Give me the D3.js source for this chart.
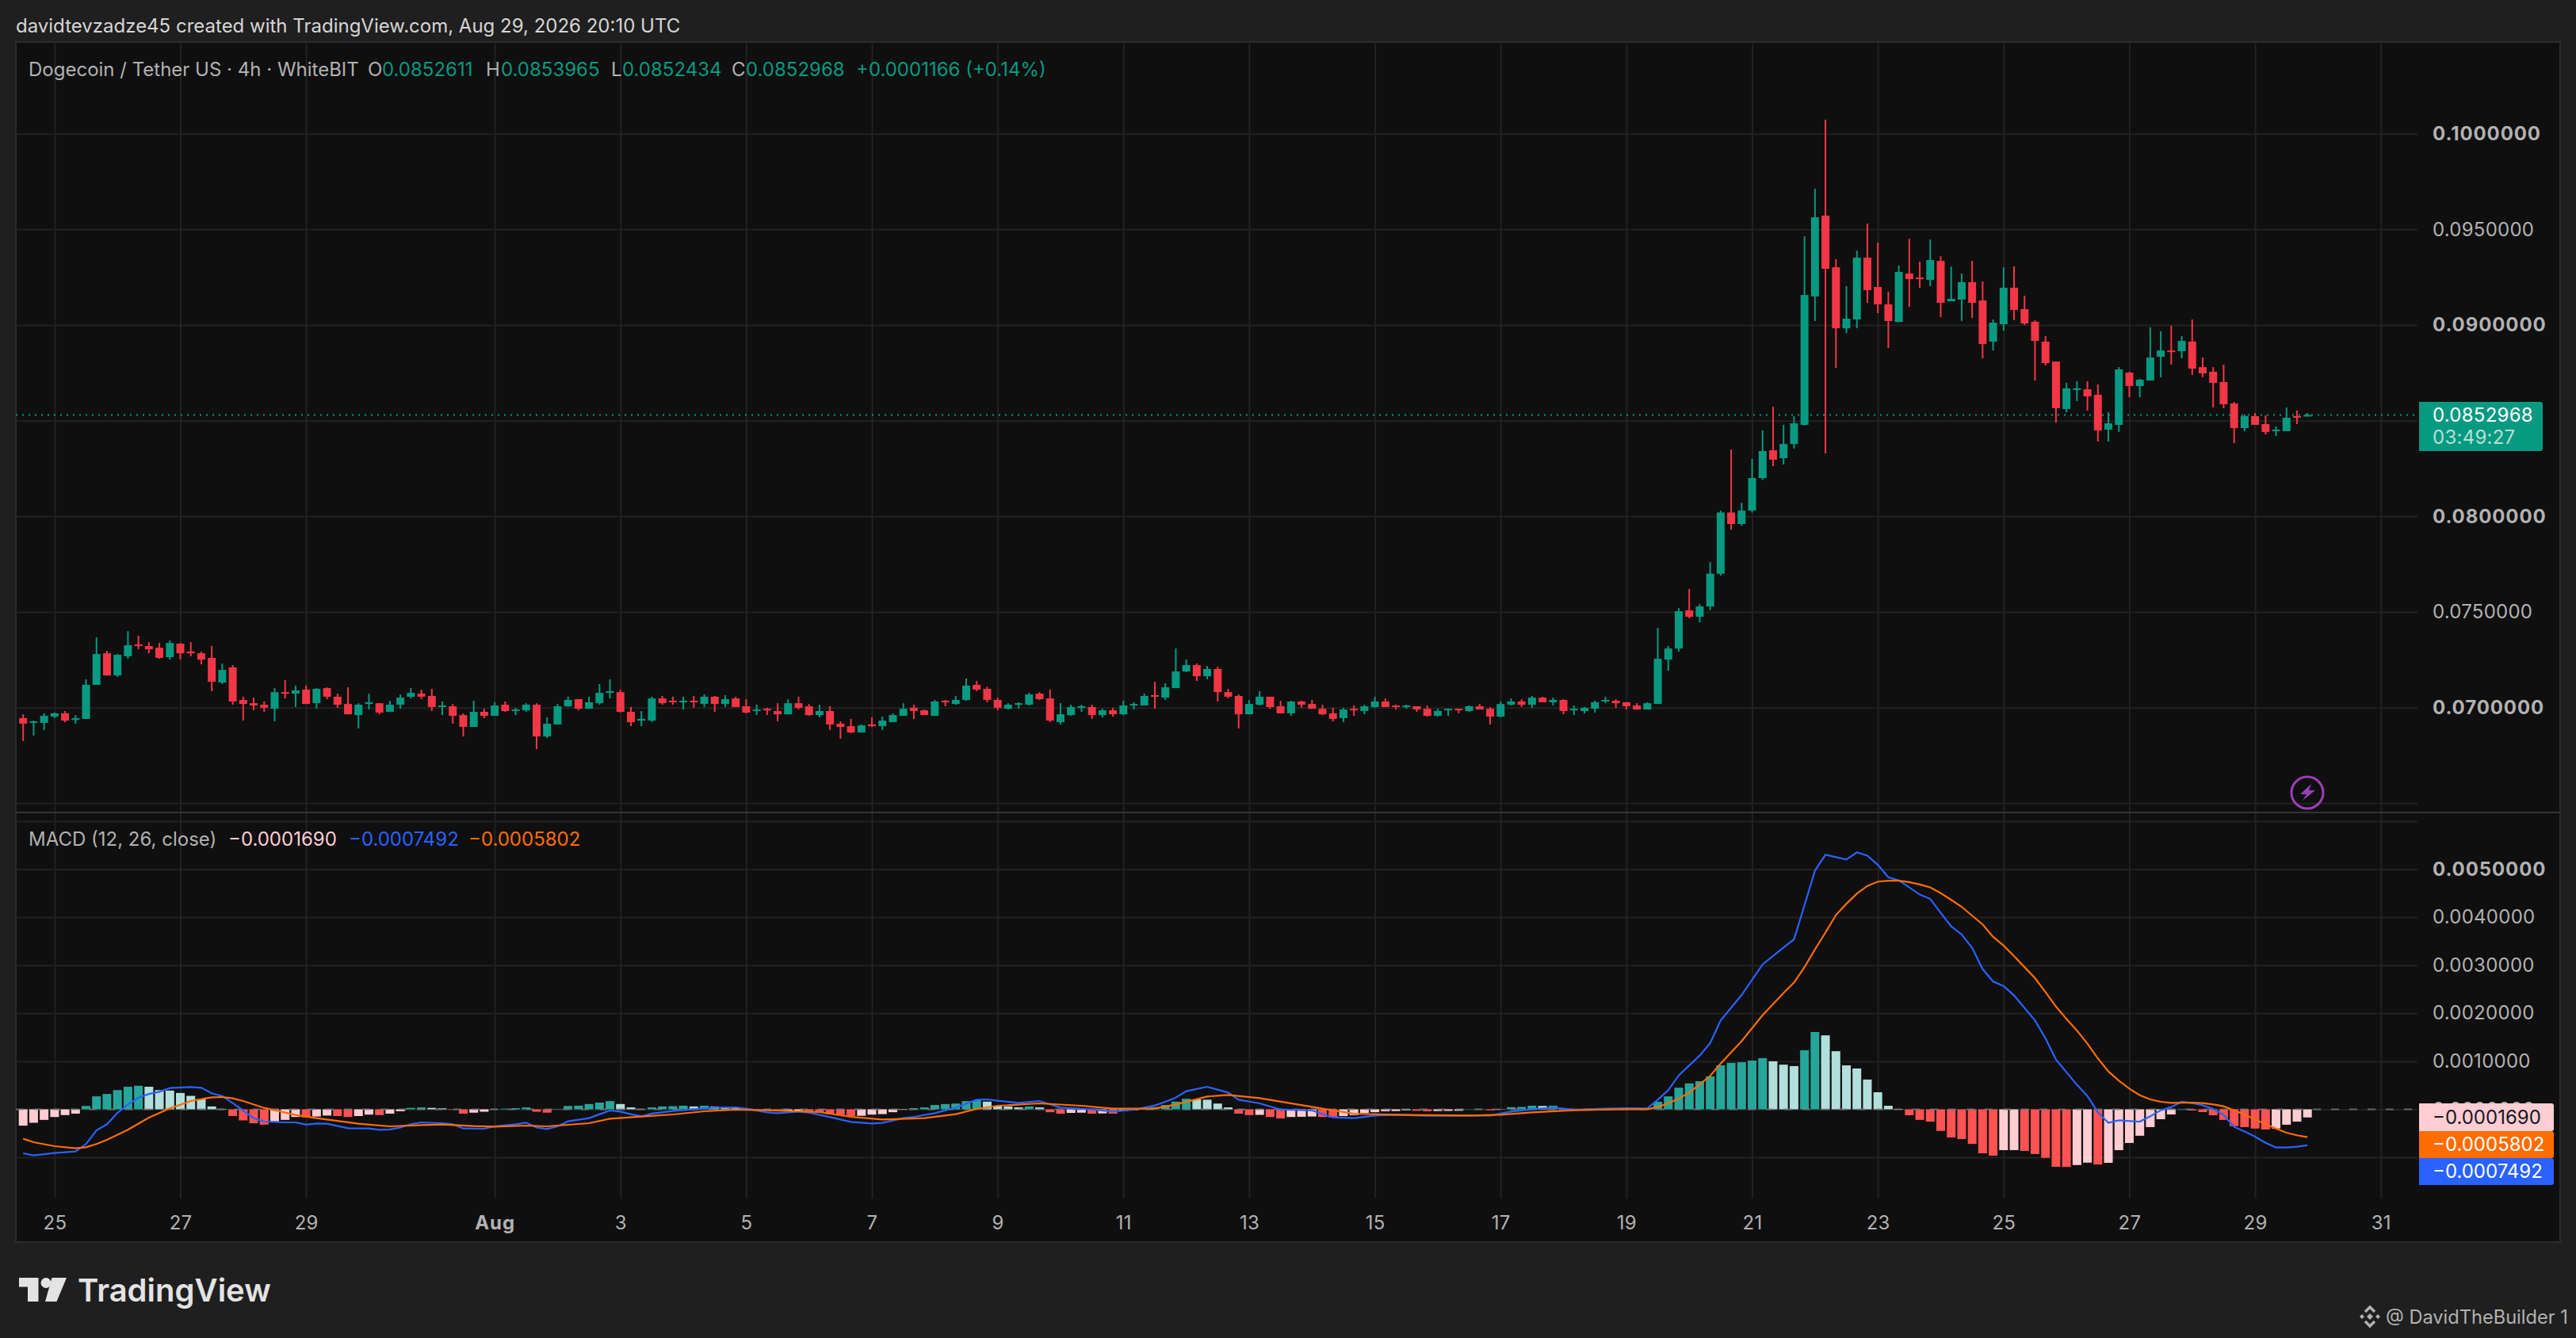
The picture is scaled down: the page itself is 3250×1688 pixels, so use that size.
<!DOCTYPE html>
<html>
<head>
<meta charset="utf-8">
<style>
html, body { margin: 0; padding: 0; background: #1f1f1f; }
svg { display: block; }
text { font-family: Inter, "Noto Sans", sans-serif; }
.grid line { stroke: #222222; stroke-width: 2px; }
.grid path { display: none; }
.axis text { fill: #b2b2b2; font-size: 24px; letter-spacing: 0.25px; }
.axis text.strong { font-weight: 700; letter-spacing: 0.9px; }
</style>
</head>
<body>
<svg id="chart" width="3250" height="1688"></svg>
<script src="https://d3js.org/d3.v7.min.js"></script>
<script>

// 4h candles, oldest first (Jul 24 12:00 to Aug 29 20:00 UTC)
const opens = [
  0.06945,0.06920,0.06920,0.06953,0.06970,0.06936,0.06941,0.07119,0.07284,0.07168,
  0.07268,0.07330,0.07322,0.07313,0.07264,0.07334,0.07293,0.07284,0.07260,0.07131,
  0.07210,0.07040,0.07023,0.07015,0.06994,0.07081,0.07073,0.07094,0.07023,0.07102,
  0.07057,0.07019,0.06961,0.07019,0.07023,0.06978,0.07015,0.07057,0.07073,0.07061,
  0.07003,0.07007,0.06961,0.06899,0.06978,0.06957,0.07015,0.06982,0.06986,0.07015,
  0.06849,0.06912,0.07007,0.07044,0.06994,0.07023,0.07077,0.07081,0.06978,0.06932,
  0.06932,0.07048,0.07036,0.07028,0.07036,0.07019,0.07057,0.07019,0.07048,0.07007,
  0.06982,0.06994,0.06982,0.06965,0.07023,0.07007,0.06961,0.06982,0.06916,0.06903,
  0.06870,0.06912,0.06903,0.06924,0.06957,0.06999,0.06986,0.06957,0.07036,0.07019,
  0.07040,0.07119,0.07098,0.07040,0.06994,0.07015,0.07015,0.07073,0.07048,0.06924,
  0.06961,0.06999,0.07003,0.06961,0.06986,0.06965,0.07011,0.07011,0.07065,0.07052,
  0.07102,0.07189,0.07222,0.07164,0.07202,0.07081,0.07061,0.06965,0.07015,0.07057,
  0.07007,0.06970,0.07032,0.07019,0.06994,0.06970,0.06945,0.06994,0.06982,0.07003,
  0.07032,0.07011,0.07003,0.07007,0.06994,0.06957,0.06986,0.06994,0.06982,0.07007,
  0.06994,0.06953,0.07015,0.07032,0.07015,0.07052,0.07028,0.07040,0.06986,0.06982,
  0.06994,0.07032,0.07036,0.07028,0.07011,0.06990,0.07019,0.07251,0.07309,0.07508,
  0.07475,0.07529,0.07700,0.08020,0.07960,0.08030,0.08200,0.08345,0.08304,0.08378,
  0.08478,0.09149,0.09572,0.09302,0.08983,0.09029,0.09352,0.09199,0.09108,0.09016,
  0.09269,0.09248,0.09236,0.09335,0.09124,0.09133,0.09224,0.09128,0.08913,0.09004,
  0.09195,0.09083,0.09017,0.08913,0.08809,0.08561,0.08660,0.08664,0.08635,0.08453,
  0.08478,0.08751,0.08681,0.08710,0.08834,0.08867,0.08863,0.08913,0.08780,0.08756,
  0.08702,0.08590,0.08461,0.08524,0.08482,0.08445,0.08445,0.08524,0.0852611
];
const highs = [
  0.06965,0.06932,0.06970,0.06974,0.06982,0.06961,0.07148,0.07367,0.07297,0.07280,
  0.07400,0.07376,0.07342,0.07338,0.07351,0.07338,0.07342,0.07293,0.07322,0.07231,
  0.07222,0.07057,0.07052,0.07032,0.07102,0.07144,0.07115,0.07115,0.07102,0.07106,
  0.07073,0.07106,0.07023,0.07073,0.07023,0.07036,0.07069,0.07102,0.07094,0.07098,
  0.07032,0.07019,0.06970,0.07036,0.06994,0.07028,0.07032,0.06999,0.07023,0.07023,
  0.06949,0.07019,0.07057,0.07044,0.07057,0.07123,0.07148,0.07094,0.07003,0.06982,
  0.07057,0.07061,0.07057,0.07057,0.07061,0.07069,0.07061,0.07065,0.07057,0.07044,
  0.07015,0.06999,0.07023,0.07044,0.07057,0.07019,0.07015,0.07007,0.06928,0.06941,
  0.06912,0.06949,0.06953,0.06970,0.07023,0.07015,0.06990,0.07040,0.07040,0.07061,
  0.07152,0.07139,0.07110,0.07052,0.07023,0.07028,0.07077,0.07081,0.07094,0.07023,
  0.07015,0.07015,0.07015,0.06994,0.06999,0.07036,0.07028,0.07073,0.07135,0.07127,
  0.07309,0.07251,0.07231,0.07218,0.07214,0.07098,0.07069,0.07040,0.07086,0.07057,
  0.07036,0.07036,0.07036,0.07040,0.07015,0.06999,0.06999,0.07011,0.07015,0.07057,
  0.07048,0.07015,0.07015,0.07007,0.07011,0.06994,0.06994,0.06994,0.07011,0.07019,
  0.07003,0.07032,0.07048,0.07044,0.07061,0.07057,0.07052,0.07044,0.07011,0.07003,
  0.07036,0.07057,0.07044,0.07028,0.07023,0.07028,0.07417,0.07322,0.07520,0.07620,
  0.07541,0.07760,0.08030,0.08349,0.08070,0.08300,0.08449,0.08573,0.08478,0.08523,
  0.09464,0.09713,0.10073,0.09344,0.09203,0.09389,0.09530,0.09431,0.09174,0.09311,
  0.09451,0.09331,0.09447,0.09360,0.09306,0.09269,0.09335,0.09228,0.09029,0.09302,
  0.09307,0.09153,0.09025,0.08942,0.08809,0.08698,0.08706,0.08706,0.08689,0.08544,
  0.08780,0.08756,0.08718,0.08988,0.08967,0.08996,0.08942,0.09029,0.08830,0.08780,
  0.08793,0.08598,0.08532,0.08540,0.08528,0.08470,0.08569,0.08553,0.0853965
];
const lows = [
  0.06825,0.06854,0.06883,0.06945,0.06924,0.06916,0.06941,0.07119,0.07168,0.07160,
  0.07255,0.07305,0.07284,0.07255,0.07251,0.07251,0.07268,0.07226,0.07086,0.07123,
  0.07015,0.06932,0.06986,0.06978,0.06928,0.07048,0.07003,0.07019,0.06994,0.07044,
  0.06999,0.06965,0.06891,0.06990,0.06965,0.06978,0.06994,0.07048,0.07044,0.06982,
  0.06961,0.06916,0.06849,0.06899,0.06945,0.06957,0.06978,0.06961,0.06978,0.06783,
  0.06841,0.06912,0.07003,0.06986,0.06994,0.07015,0.07048,0.06974,0.06903,0.06903,
  0.06924,0.07015,0.07015,0.06990,0.06999,0.07003,0.06978,0.07003,0.07003,0.06970,
  0.06961,0.06961,0.06928,0.06965,0.06990,0.06957,0.06949,0.06883,0.06837,0.06866,
  0.06870,0.06899,0.06883,0.06924,0.06957,0.06941,0.06961,0.06957,0.07007,0.07015,
  0.07036,0.07086,0.07028,0.06986,0.06990,0.06994,0.07011,0.07040,0.06924,0.06912,
  0.06957,0.06978,0.06941,0.06949,0.06953,0.06961,0.06990,0.07011,0.06994,0.07040,
  0.07102,0.07185,0.07139,0.07148,0.07032,0.07048,0.06891,0.06965,0.07011,0.06994,
  0.06970,0.06957,0.06999,0.06994,0.06961,0.06928,0.06924,0.06957,0.06965,0.06999,
  0.07003,0.06990,0.06994,0.06978,0.06953,0.06953,0.06957,0.06970,0.06978,0.06990,
  0.06912,0.06949,0.07011,0.07003,0.06999,0.07028,0.07011,0.06965,0.06961,0.06970,
  0.06974,0.07023,0.06999,0.06990,0.06990,0.06990,0.07019,0.07193,0.07293,0.07467,
  0.07446,0.07510,0.07690,0.07930,0.07950,0.08020,0.08190,0.08262,0.08271,0.08354,
  0.08474,0.09021,0.08329,0.08776,0.08958,0.08983,0.09116,0.09062,0.08880,0.09016,
  0.09095,0.09195,0.09203,0.09041,0.09124,0.09021,0.09037,0.08826,0.08867,0.08971,
  0.09025,0.09000,0.08710,0.08789,0.08490,0.08544,0.08602,0.08553,0.08391,0.08391,
  0.08441,0.08623,0.08623,0.08710,0.08727,0.08793,0.08826,0.08739,0.08727,0.08569,
  0.08565,0.08383,0.08445,0.08478,0.08428,0.08420,0.08445,0.08482,0.0852434
];
const closes = [
  0.06916,0.06928,0.06957,0.06970,0.06932,0.06945,0.07119,0.07280,0.07168,0.07276,
  0.07326,0.07322,0.07305,0.07260,0.07338,0.07284,0.07284,0.07251,0.07135,0.07197,
  0.07032,0.07019,0.07011,0.06999,0.07081,0.07073,0.07090,0.07019,0.07098,0.07057,
  0.07015,0.06965,0.07015,0.07028,0.06974,0.07015,0.07052,0.07077,0.07057,0.07003,
  0.07011,0.06957,0.06899,0.06978,0.06957,0.07011,0.06982,0.06990,0.07015,0.06849,
  0.06916,0.07007,0.07040,0.06994,0.07028,0.07077,0.07086,0.06978,0.06924,0.06941,
  0.07048,0.07023,0.07028,0.07036,0.07028,0.07057,0.07019,0.07044,0.07003,0.06974,
  0.06990,0.06986,0.06965,0.07023,0.06999,0.06961,0.06982,0.06912,0.06899,0.06870,
  0.06907,0.06903,0.06932,0.06961,0.06994,0.06982,0.06961,0.07032,0.07028,0.07040,
  0.07115,0.07094,0.07040,0.06999,0.07015,0.07023,0.07069,0.07044,0.06932,0.06965,
  0.07003,0.07007,0.06961,0.06986,0.06965,0.07011,0.07019,0.07061,0.07057,0.07106,
  0.07189,0.07222,0.07164,0.07202,0.07081,0.07057,0.06965,0.07019,0.07057,0.07003,
  0.06970,0.07032,0.07015,0.06994,0.06965,0.06941,0.06990,0.06986,0.07007,0.07032,
  0.07003,0.07003,0.07011,0.06990,0.06957,0.06982,0.06994,0.06986,0.07007,0.06990,
  0.06953,0.07019,0.07032,0.07015,0.07052,0.07028,0.07040,0.06982,0.06994,0.06999,
  0.07028,0.07040,0.07023,0.07007,0.06990,0.07023,0.07255,0.07309,0.07504,0.07475,
  0.07529,0.07700,0.08020,0.07960,0.08030,0.08200,0.08341,0.08296,0.08378,0.08486,
  0.09157,0.09563,0.09294,0.08983,0.09033,0.09352,0.09182,0.09108,0.09021,0.09278,
  0.09240,0.09240,0.09340,0.09116,0.09137,0.09224,0.09116,0.08901,0.09012,0.09195,
  0.09079,0.09008,0.08917,0.08801,0.08565,0.08669,0.08669,0.08627,0.08449,0.08486,
  0.08768,0.08681,0.08714,0.08830,0.08867,0.08859,0.08917,0.08772,0.08747,0.08698,
  0.08586,0.08461,0.08524,0.08478,0.08441,0.08453,0.08515,0.08515,0.0852968
];

// MACD histogram, one value per candle
const macdHist = [
  -0.00034,-0.00028,-0.00022,-0.00016,-0.00012,-0.00009,0.00007,0.00027,0.00032,0.00040,
  0.00047,0.00049,0.00047,0.00040,0.00039,0.00034,0.00028,0.00021,0.00006,0.00001,
  -0.00014,-0.00023,-0.00029,-0.00032,-0.00025,-0.00022,-0.00016,-0.00017,-0.00015,-0.00013,
  -0.00014,-0.00016,-0.00014,-0.00011,-0.00012,-0.00009,-0.00004,0.00003,0.00004,0.00003,
  0.00002,-0.00001,-0.00009,-0.00007,-0.00005,0.00001,0.000015,0.000025,0.00004,-0.00005,
  -0.00007,0.00001,0.00007,0.000075,0.00011,0.00014,0.00017,0.00011,0.00004,0.00001,
  0.00004,0.00006,0.000065,0.000075,0.00006,0.000075,0.00006,0.00004,0.000025,0.00001,
  -0.00001,-0.000015,-0.00003,-0.000028,-0.000025,-0.00004,-0.00007,-0.00010,-0.00012,-0.00014,
  -0.000135,-0.00011,-0.00010,-0.00006,-0.00001,0.000025,0.00004,0.00009,0.00011,0.00012,
  0.00017,0.00019,0.00016,0.000075,0.00006,0.00004,0.00006,0.00004,-0.00006,-0.00009,
  -0.000075,-0.00007,-0.00009,-0.000085,-0.00009,-0.00004,-0.00002,0.000015,0.000045,0.00009,
  0.00016,0.00022,0.000205,0.00020,0.00012,0.00004,-0.00009,-0.00012,-0.000115,-0.00016,
  -0.00019,-0.00016,-0.000155,-0.00015,-0.00016,-0.00017,-0.00014,-0.00012,-0.000075,-0.00006,
  -0.00004,-0.000035,-0.00002,-0.00003,-0.00004,-0.000035,-0.000032,-0.00003,0.000005,0.00001,
  -0.00002,-0.000005,0.000045,0.00005,0.000075,0.00007,0.000075,0.000025,0.00001,0.000008,
  0.000005,0.000004,0.000003,0.000002,0.000001,0.0000005,0.000157,0.00027,0.00045,0.00054,
  0.000585,0.000685,0.000915,0.000965,0.00098,0.001015,0.001065,0.00100,0.00093,0.00090,
  0.00123,0.00161,0.00154,0.00121,0.000915,0.00085,0.00062,0.000355,0.000074,0.000008,
  -0.000124,-0.00022,-0.000256,-0.00045,-0.000586,-0.00062,-0.00072,-0.000916,-0.000965,-0.00085,
  -0.000849,-0.000866,-0.00093,-0.00101,-0.001196,-0.00120,-0.00116,-0.00111,-0.001148,-0.001114,
  -0.00085,-0.00070,-0.00055,-0.00037,-0.000206,-0.000107,0.00001,-0.000025,-0.000058,-0.000124,
  -0.00022,-0.00035,-0.00037,-0.00040,-0.00042,-0.00040,-0.00032,-0.000256,-0.000169
];

// MACD line, read at its bends: candle number and value
const macdBars = [
  0,1,3,5,6,7,8,9,10,11,12,13,14,16,17,18,19,20,21,22,23,25,26,27,28,29,31,33,34,35,36,37,38,40,41,42,44,45,47,48,49,50,51,52,54,56,57,58,59,60,62,64,66,68,69,71,72,
  74,75,77,79,81,82,84,85,87,89,90,91,92,93,95,97,99,102,104,106,108,109,110,111,113,115,116,118,120,123,125,127,129,131,134,138,140,142,144,146,147,148,150,153,
  155,156,157,158,160,161,162,164,166,168,169,170,171,172,174,175,176,177,178,179,181,182,183,184,185,186,187,188,189,190,192,193,194,196,197,198,199,200,202,203,204,205,206,207,208,209,210,211,212,213,214,215,216,217,218
];
const macdValues = [
  -0.000916,-0.00096,-0.00091,-0.000877,-0.000723,-0.000437,-0.00031,-0.000074,0.000102,0.00024,0.00032,0.000366,0.000443,0.000465,0.000448,0.000333,0.000278,0.000129,-0.000025,-0.000184,-0.000256,-0.000272,-0.000272,-0.00032,-0.000294,-0.0003,-0.000393,-0.000399,-0.000426,-0.00042,-0.000377,-0.00031,-0.000272,-0.000289,-0.00031,-0.000399,-0.000404,-0.000355,-0.00031,-0.000278,-0.000377,-0.00041,-0.000355,-0.00025,-0.000184,-0.000025,-0.000047,-0.000102,-0.000146,-0.00009,-0.000036,0.000003,0.000036,0.000041,0.000014,-0.000063,-0.00008,
  -0.000047,-0.000069,-0.000162,-0.000261,-0.000294,-0.000283,-0.000184,-0.000157,-0.00008,0.000036,0.000118,0.0002,0.000206,0.000179,0.000135,0.000173,0.000036,-0.000003,-0.000047,-0.000008,0.00008,0.000157,0.000245,0.000377,0.00047,0.000349,0.0002,0.000124,-0.000003,-0.000025,-0.000168,-0.000184,-0.000129,-0.000113,-0.000135,-0.000129,-0.000129,-0.000047,0.000003,0.000036,0.000014,-0.000008,0.000008,0.000025,
  0.000019,0.0002,0.000399,0.000707,0.00112,0.001378,0.00185,0.00238,0.003017,0.00337,0.00354,0.00425,0.00497,0.0053,0.0052,0.00535,0.00528,0.00509,0.00483,0.004766,0.00447,0.00438,0.00409,0.00381,0.00364,0.00336,0.00292,0.00266,0.002566,0.00237,0.00185,0.001477,0.001037,0.00051,0.000278,-0.000063,-0.00028,-0.000228,-0.000256,-0.000146,-0.000019,0.000047,0.000157,0.000129,0.000085,0.000008,-0.000118,-0.000366,-0.00046,-0.00057,-0.000696,-0.000795,-0.000795,-0.000778,-0.0007492
];

// signal line, same way
const signalBars = [
  0,1,3,5,6,7,8,10,12,14,16,18,19,20,21,23,26,28,32,35,38,40,43,45,48,50,54,56,59,62,65,68,71,
  74,76,79,82,86,89,91,93,97,101,104,108,110,113,115,118,124,127,131,138,141,144,148,153,
  155,156,157,158,159,160,161,162,164,166,168,169,170,171,172,173,174,175,176,177,178,179,180,181,182,183,184,185,186,187,188,189,190,191,192,193,194,195,196,197,198,199,200,201,202,203,204,205,207,208,209,210,211,212,213,214,215,216,217,218
];
const signalValues = [
  -0.000613,-0.000685,-0.000767,-0.000811,-0.000789,-0.000723,-0.000635,-0.000426,-0.000173,0.000019,0.000173,0.00025,0.000256,0.000228,0.000173,0.00003,-0.000118,-0.000184,-0.0003,-0.000355,-0.000327,-0.000316,-0.000349,-0.00036,-0.000338,-0.000355,-0.000289,-0.000195,-0.000151,-0.000107,-0.000041,-0.000008,-0.000019,
  -0.000041,-0.000058,-0.000157,-0.000212,-0.000184,-0.000102,0.000008,0.000074,0.000124,0.000074,0.000014,0.000019,0.000102,0.000267,0.0003,0.000234,0.000014,-0.000091,-0.000113,-0.000129,-0.000113,-0.000063,-0.000019,0.000003,
  0.000003,0.000047,0.000129,0.000223,0.000349,0.00052,0.000696,0.000954,0.00142,0.00196,0.00242,0.00264,0.00296,0.00333,0.00368,0.004045,0.00428,0.00449,0.00465,0.00474,0.00476,0.00476,0.00473,0.00468,0.00462,0.0045,0.00436,0.004216,0.00403,0.00385,0.00359,0.00341,0.00319,0.00296,0.00273,0.00244,0.00214,0.00188,0.00164,0.001367,0.00106,0.00079,0.000597,0.00043,0.000294,0.000206,0.000157,0.000135,0.00014,0.000129,0.000102,0.000063,-0.000019,-0.000107,-0.00021,-0.00031,-0.0004,-0.000487,-0.00054,-0.0005802
];

const priceTicks = [0.065, 0.07, 0.075, 0.08, 0.085, 0.09, 0.095, 0.1];
const priceStrong = [0.07, 0.08, 0.09, 0.1];
const priceHidden = [0.065, 0.085];
const macdTicks = [-0.001, 0, 0.001, 0.002, 0.003, 0.004, 0.005, 0.006];
const macdStrong = [0.005];
const macdHidden = [-0.001, 0.006];
const timeTickLabels = ["25","27","29","Aug","3","5","7","9","11","13","15","17","19","21","23","25","27","29","31"];
const timeTickDates = [
  Date.UTC(2026,6,25),Date.UTC(2026,6,27),Date.UTC(2026,6,29),Date.UTC(2026,7,1),Date.UTC(2026,7,3),
  Date.UTC(2026,7,5),Date.UTC(2026,7,7),Date.UTC(2026,7,9),Date.UTC(2026,7,11),Date.UTC(2026,7,13),
  Date.UTC(2026,7,15),Date.UTC(2026,7,17),Date.UTC(2026,7,19),Date.UTC(2026,7,21),Date.UTC(2026,7,23),
  Date.UTC(2026,7,25),Date.UTC(2026,7,27),Date.UTC(2026,7,29),Date.UTC(2026,7,31)
];

const green = "#089981", red = "#f23645", blue = "#2962ff", orange = "#ff6d00";

const paneLeft = 20, plotRight = 3050, paneRight = 3230;
const paneTop = 53, paneSplit = 1025, plotBottom = 1512, paneBottom = 1567;

const svg = d3.select("#chart");
const firstBar = Date.UTC(2026,6,24,12), fourHours = 4 * 3600 * 1000;
const barDate = i => firstBar + i * fourHours;

const x = d3.scaleUtc().domain([firstBar, barDate(218)]).range([29.2, 2911.2]);
const yPrice = d3.scaleLinear().domain([0.07, 0.1]).range([892.7, 168.7]);
const yMacd = d3.scaleLinear().domain([0, 0.005]).range([1399.5, 1096.5]);

svg.append("rect").attr("width", 3250).attr("height", 1688).attr("fill", "#1f1f1f");
svg.append("rect").attr("x", paneLeft).attr("y", paneTop)
  .attr("width", paneRight - paneLeft).attr("height", paneBottom - paneTop)
  .attr("fill", "#0f0f0f").attr("stroke", "#2c2c2c").attr("stroke-width", 2);

svg.append("defs").append("clipPath").attr("id", "plot").append("rect")
  .attr("x", paneLeft + 1).attr("y", paneTop).attr("width", plotRight - paneLeft).attr("height", plotBottom - paneTop);

// time axis + vertical grid
const timeAxis = svg.append("g").attr("class", "grid axis")
  .attr("transform", `translate(0,${plotBottom})`)
  .call(d3.axisBottom(x).tickValues(timeTickDates)
    .tickSizeInner(-(plotBottom - paneTop)).tickSizeOuter(0).tickPadding(22)
    .tickFormat((d, i) => timeTickLabels[i]));
timeAxis.selectAll("text")
  .classed("strong", (d, i) => timeTickLabels[i] === "Aug");

function valueAxis(scale, ticks, strong, hidden) {
  const g = svg.append("g").attr("class", "grid axis")
    .attr("transform", `translate(${plotRight},0)`)
    .call(d3.axisRight(scale).tickValues(ticks)
      .tickSizeInner(-(plotRight - paneLeft)).tickSizeOuter(0).tickPadding(19)
      .tickFormat(d => hidden.includes(d) ? "" : d3.format(".7f")(d)));
  g.selectAll("text").classed("strong", d => strong.includes(d));
  return g;
}
valueAxis(yPrice, priceTicks, priceStrong, priceHidden);
valueAxis(yMacd, macdTicks, macdStrong, macdHidden);

// pane separator
svg.append("line").attr("x1", paneLeft).attr("x2", paneRight)
  .attr("y1", paneSplit).attr("y2", paneSplit)
  .attr("stroke", "#343434").attr("stroke-width", 2);

// last price line
svg.append("line").attr("x1", paneLeft).attr("x2", plotRight - 4)
  .attr("y1", yPrice(closes[218])).attr("y2", yPrice(closes[218]))
  .attr("stroke", green).attr("stroke-width", 2).attr("stroke-dasharray", "2,6");

// candles
const bars = d3.range(opens.length);
const candleColor = i => closes[i] >= opens[i] ? green : red;
svg.append("g").selectAll("line").data(bars).join("line")
  .attr("x1", i => x(barDate(i))).attr("x2", i => x(barDate(i)))
  .attr("y1", i => yPrice(highs[i])).attr("y2", i => yPrice(lows[i]))
  .attr("stroke", candleColor).attr("stroke-width", 2);
svg.append("g").selectAll("rect").data(bars).join("rect")
  .attr("x", i => x(barDate(i)) - 5).attr("width", 10)
  .attr("y", i => yPrice(Math.max(opens[i], closes[i])))
  .attr("height", i => Math.max(2, Math.abs(yPrice(opens[i]) - yPrice(closes[i]))))
  .attr("fill", candleColor);

// histogram
function histColor(i) {
  const v = macdHist[i], rising = i === 0 || v >= macdHist[i - 1];
  if (v >= 0) return rising ? "#26a69a" : "#b2dfdb";
  return rising ? "#ffcdd2" : "#ff5252";
}
svg.append("g").selectAll("rect").data(bars).join("rect")
  .attr("x", i => x(barDate(i)) - 5.5).attr("width", 11)
  .attr("y", i => Math.min(yMacd(macdHist[i]), yMacd(0)))
  .attr("height", i => Math.abs(yMacd(macdHist[i]) - yMacd(0)))
  .attr("fill", histColor);

// zero line
svg.append("line").attr("x1", paneLeft).attr("x2", plotRight)
  .attr("y1", yMacd(0)).attr("y2", yMacd(0))
  .attr("stroke", "#787b86").attr("stroke-opacity", 0.75).attr("stroke-width", 2).attr("stroke-dasharray", "10,13");

// macd + signal
const line = d3.line().x(d => x(barDate(d[0]))).y(d => yMacd(d[1]));
const lines = svg.append("g").attr("clip-path", "url(#plot)").attr("fill", "none").attr("stroke-width", 2.2);
lines.append("path").attr("d", line(d3.zip(macdBars, macdValues))).attr("stroke", blue);
lines.append("path").attr("d", line(d3.zip(signalBars, signalValues))).attr("stroke", orange);

// value badges on the right
function badge(yTop, w, h, fill) {
  svg.append("path").attr("fill", fill)
    .attr("d", `M3052,${yTop}H${3052 + w - 3}q3,0 3,3V${yTop + h - 3}q0,3 -3,3H3052Z`);
}
function label(tx, ty, str, fill, size, weight) {
  return svg.append("text").attr("x", tx).attr("y", ty).attr("fill", fill)
    .attr("font-size", size).attr("font-weight", weight || 400)
    .attr("dominant-baseline", "central").text(str);
}
badge(507, 156, 62, green);
label(3069, 523, "0.0852968", "#ffffff", 24).attr("letter-spacing", 0.25);
label(3069, 551, "03:49:27", "#b5e0d8", 24).attr("letter-spacing", 0.25);

badge(1392, 170, 35, "#ffcdd2");
badge(1427, 170, 34, orange);
badge(1461, 170, 34, blue);
label(3069, 1409.5, "\u22120.0001690", "#131722", 24);
label(3069, 1443.5, "\u22120.0005802", "#ffffff", 24);
label(3069, 1477.5, "\u22120.0007492", "#ffffff", 24);

// header + legends
label(20, 32, "davidtevzadze45 created with TradingView.com, Aug 29, 2026 20:10 UTC", "#d6d6d6", 24);
const legendY = 87;
label(36, legendY, "Dogecoin / Tether US \u00b7 4h \u00b7 WhiteBIT", "#b2b2b2", 24);
label(464, legendY, "O", "#b2b2b2", 24);
label(482, legendY, "0.0852611", green, 24);
label(613, legendY, "H", "#b2b2b2", 24);
label(632, legendY, "0.0853965", green, 24);
label(771, legendY, "L", "#b2b2b2", 24);
label(785, legendY, "0.0852434", green, 24);
label(923, legendY, "C", "#b2b2b2", 24);
label(941, legendY, "0.0852968", green, 24);
label(1080, legendY, "+0.0001166 (+0.14%)", green, 24);

const macdLegendY = 1058;
label(36, macdLegendY, "MACD (12, 26, close)", "#b2b2b2", 24);
label(288, macdLegendY, "\u22120.0001690", "#ffcdd2", 24);
label(440, macdLegendY, "\u22120.0007492", blue, 24);
label(591, macdLegendY, "\u22120.0005802", orange, 24);

// purple flash icon
const flash = svg.append("g").attr("transform", "translate(2911,1000)");
flash.append("circle").attr("r", 20).attr("fill", "none").attr("stroke", "#9c3fb5").attr("stroke-width", 3);
flash.append("path").attr("fill", "#9c3fb5").attr("d", "M5,-11L-9,2H-1L-6,10L10,-3H2Z");

// TradingView logo
const logo = svg.append("g").attr("fill", "#e3e3e3");
logo.append("path").attr("d", "M24,1612H48.5V1642H35V1623.5H24Z");
logo.append("circle").attr("cx", 58).attr("cy", 1618.5).attr("r", 6.5);
logo.append("path").attr("d", "M65.5,1612H84L71.5,1642H57Z");
label(98, 1627, "TradingView", "#e3e3e3", 40, 600).attr("font-family", "Lato");

// footer credit
const mark = svg.append("g").attr("transform", "translate(2990,1661)")
  .attr("fill", "none").attr("stroke", "#b2b2b2").attr("stroke-width", 3.5);
mark.append("path").attr("d", "M-6,-6L0,-12L6,-6");
mark.append("path").attr("d", "M-6,6L0,12L6,6");
mark.append("path").attr("d", "M-4,0L0,-4L4,0L0,4Z").attr("fill", "#b2b2b2").attr("stroke", "none");
mark.append("path").attr("d", "M-13,0L-10,-3L-7,0L-10,3Z").attr("fill", "#b2b2b2").attr("stroke", "none");
mark.append("path").attr("d", "M13,0L10,-3L7,0L10,3Z").attr("fill", "#b2b2b2").attr("stroke", "none");
label(3010, 1661, "@ DavidTheBuilder 1", "#b2b2b2", 23.6);

</script>
</body>
</html>
